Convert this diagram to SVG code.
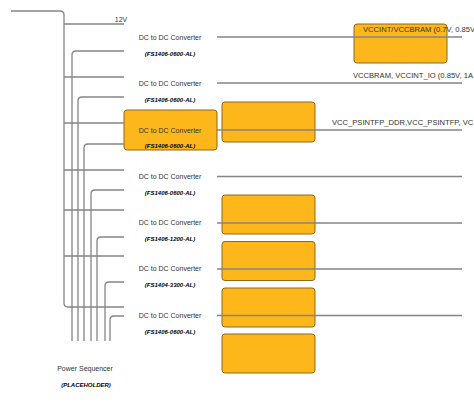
<svg xmlns="http://www.w3.org/2000/svg" width="474" height="406" viewBox="0 0 474 406">
<style>
.bg{fill:#ffffff}
.box{fill:#FDB71A;stroke:#8A6A1C;stroke-width:1}
.ln{fill:none;stroke:#858585;stroke-width:1.3}
.t{font-family:"Liberation Sans",Arial,sans-serif;font-size:7px;fill:#333333}
.r{font-size:7.6px}
.c{text-anchor:middle}
.pn{font-family:"Liberation Sans",Arial,sans-serif;font-size:6px;font-weight:bold;font-style:italic;fill:#000000;text-anchor:middle}
</style>
<rect class="bg" x="0" y="0" width="474" height="406"/>
<g id="sequencer">
<text class="t c" x="85" y="370.5">Power Sequencer</text>
<text class="pn" x="86" y="387">(PLACEHOLDER)</text>
</g>
<g id="conv1">
<text class="t c" x="170" y="39.5">DC to DC Converter</text>
<text class="pn" x="170" y="55.5">(FS1406-0600-AL)</text>
</g>
<g id="conv2">
<text class="t c" x="170" y="85.5">DC to DC Converter</text>
<text class="pn" x="170" y="101.5">(FS1406-0600-AL)</text>
</g>
<g id="conv3">
<rect class="box" x="124" y="110" width="93" height="40" rx="3"/>
<text class="t c" x="170" y="132.5">DC to DC Converter</text>
<text class="pn" x="170" y="148">(FS1406-0600-AL)</text>
</g>
<g id="conv4">
<text class="t c" x="170" y="178.5">DC to DC Converter</text>
<text class="pn" x="170" y="194.5">(FS1406-0600-AL)</text>
</g>
<g id="conv5">
<text class="t c" x="170" y="224.5">DC to DC Converter</text>
<text class="pn" x="170" y="241">(FS1406-1200-AL)</text>
</g>
<g id="conv6">
<text class="t c" x="170" y="270.5">DC to DC Converter</text>
<text class="pn" x="170" y="287">(FS1404-3300-AL)</text>
</g>
<g id="conv7">
<text class="t c" x="170" y="317.5">DC to DC Converter</text>
<text class="pn" x="170" y="333.5">(FS1406-0600-AL)</text>
</g>
<g id="rail1">
<rect class="box" x="354" y="24" width="93" height="39" rx="3"/>
<text class="t r" x="363" y="31.5">VCCINT/VCCBRAM (0.7V, 0.85V</text>
</g>
<g id="rail2">
<text class="t r" x="353" y="77.5">VCCBRAM, VCCINT_IO (0.85V, 1A</text>
</g>
<g id="rail3">
<rect class="box" x="222" y="102" width="93" height="40" rx="3"/>
<text class="t r" x="332" y="124.5">VCC_PSINTFP_DDR,VCC_PSINTFP, VC</text>
</g>
<g id="rail5"><rect class="box" x="222" y="195" width="93" height="39" rx="3"/></g>
<g id="rail6"><rect class="box" x="222" y="241.5" width="93" height="39" rx="3"/></g>
<g id="rail7"><rect class="box" x="222" y="288" width="93" height="39" rx="3"/></g>
<g id="rail8"><rect class="box" x="222" y="334" width="93" height="39" rx="3"/></g>
<g id="connectors">
<path class="ln" d="M11,11 H60 Q64,11 64,15 V303 Q64,307 68,307 H124"/>
<path class="ln" d="M64,24 H124 M64,77 H124 M64,123 H124 M64,170 H124 M64,210 H124 M64,256 H124"/>
<path class="ln" d="M72,341 V55 Q72,51 76,51 H124"/>
<path class="ln" d="M78,341 V101 Q78,97 82,97 H124"/>
<path class="ln" d="M84,341 V148 Q84,144 88,144 H124"/>
<path class="ln" d="M91,341 V194 Q91,190 95,190 H124"/>
<path class="ln" d="M97,341 V241 Q97,237 101,237 H124"/>
<path class="ln" d="M105,341 V286 Q105,282 109,282 H124"/>
<path class="ln" d="M110,341 V320 Q110,316 114,316 H124"/>
<path class="ln" d="M217,37 H462 M217,83 H462 M217,130 H462 M217,176.5 H462 M217,223 H462 M217,269 H462 M217,315.5 H462"/>
</g>
<text class="t c" x="121" y="22">12V</text>
</svg>
